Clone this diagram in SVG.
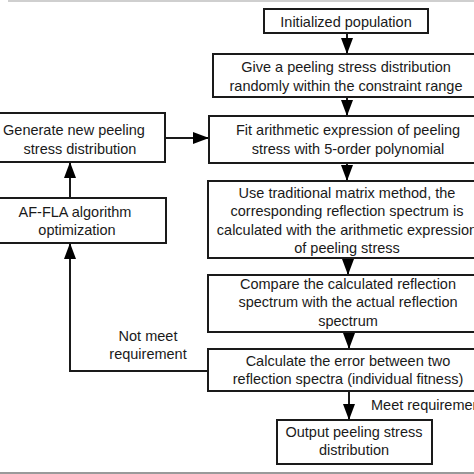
<svg xmlns="http://www.w3.org/2000/svg" width="474" height="474" viewBox="0 0 474 474">
<style>
.box{fill:#fff;stroke:#1a1a1a;stroke-width:2}
.t{font-family:"Liberation Sans",Arial,sans-serif;font-size:14.5px;fill:#1a1a1a;text-anchor:middle}
.s{text-anchor:start}
.ln{fill:none;stroke:#1a1a1a;stroke-width:2}
</style>
<defs>
<marker id="ah" markerWidth="16" markerHeight="12" refX="16" refY="6" orient="auto" markerUnits="userSpaceOnUse">
<path d="M0,0 L16,6 L0,12 Z" fill="#000"/>
</marker>
</defs>
<rect x="0" y="0" width="474" height="474" fill="#fff"/>
<rect x="8" y="0" width="466" height="2" fill="#cfcfcf"/>
<rect x="0" y="472" width="474" height="2" fill="#9a9a9a"/>

<g id="connectors">
<line class="ln" x1="347" y1="33" x2="347" y2="54" marker-end="url(#ah)"/>
<line class="ln" x1="347" y1="97" x2="347" y2="116" marker-end="url(#ah)"/>
<line class="ln" x1="165" y1="138" x2="209" y2="138" marker-end="url(#ah)"/>
<line class="ln" x1="347" y1="163" x2="347" y2="181" marker-end="url(#ah)"/>
<line class="ln" x1="348" y1="258" x2="348" y2="275" marker-end="url(#ah)"/>
<line class="ln" x1="349" y1="332" x2="349" y2="349" marker-end="url(#ah)"/>
<line class="ln" x1="349" y1="391" x2="349" y2="420" marker-end="url(#ah)"/>
<polyline class="ln" points="208,371 70,371 70,243" marker-end="url(#ah)"/>
<line class="ln" x1="70" y1="198" x2="70" y2="162" marker-end="url(#ah)"/>
<text class="t" x="148" y="341">Not meet</text>
<text class="t" x="148" y="359">requirement</text>
<text class="t s" x="371" y="410">Meet requirement</text>
</g>

<g id="n1">
<rect class="box" x="264" y="9" width="164" height="24"/>
<text class="t" x="346" y="27">Initialized population</text>
</g>
<g id="n2">
<rect class="box" x="213" y="54" width="266" height="43"/>
<text class="t" x="346" y="72">Give a peeling stress distribution</text>
<text class="t" x="346" y="91">randomly within the constraint range</text>
</g>
<g id="n3">
<rect class="box" x="209" y="116" width="280" height="47"/>
<text class="t" x="348" y="135">Fit arithmetic expression of peeling</text>
<text class="t" x="348" y="154">stress with 5-order polynomial</text>
</g>
<g id="n4">
<rect class="box" x="-16" y="113" width="181" height="49"/>
<text class="t" x="74" y="135">Generate new peeling</text>
<text class="t" x="80" y="154">stress distribution</text>
</g>
<g id="n5">
<rect class="box" x="208" y="181" width="280" height="77"/>
<text class="t" x="347" y="198">Use traditional matrix method, the</text>
<text class="t" x="347" y="216">corresponding reflection spectrum is</text>
<text class="t" x="347" y="235">calculated with the arithmetic expression</text>
<text class="t" x="347" y="253">of peeling stress</text>
</g>
<g id="n6">
<rect class="box" x="-16" y="198" width="182" height="45"/>
<text class="t" x="75" y="217">AF-FLA algorithm</text>
<text class="t" x="77" y="235">optimization</text>
</g>
<g id="n7">
<rect class="box" x="208" y="275" width="280" height="57"/>
<text class="t" x="348" y="289">Compare the calculated reflection</text>
<text class="t" x="348" y="307">spectrum with the actual reflection</text>
<text class="t" x="348" y="326">spectrum</text>
</g>
<g id="n8">
<rect class="box" x="208" y="349" width="280" height="42"/>
<text class="t" x="348" y="366">Calculate the error between two</text>
<text class="t" x="348" y="384">reflection spectra (individual fitness)</text>
</g>
<g id="n9">
<rect class="box" x="277" y="420" width="155" height="44"/>
<text class="t" x="354" y="437">Output peeling stress</text>
<text class="t" x="354" y="455">distribution</text>
</g>
</svg>
